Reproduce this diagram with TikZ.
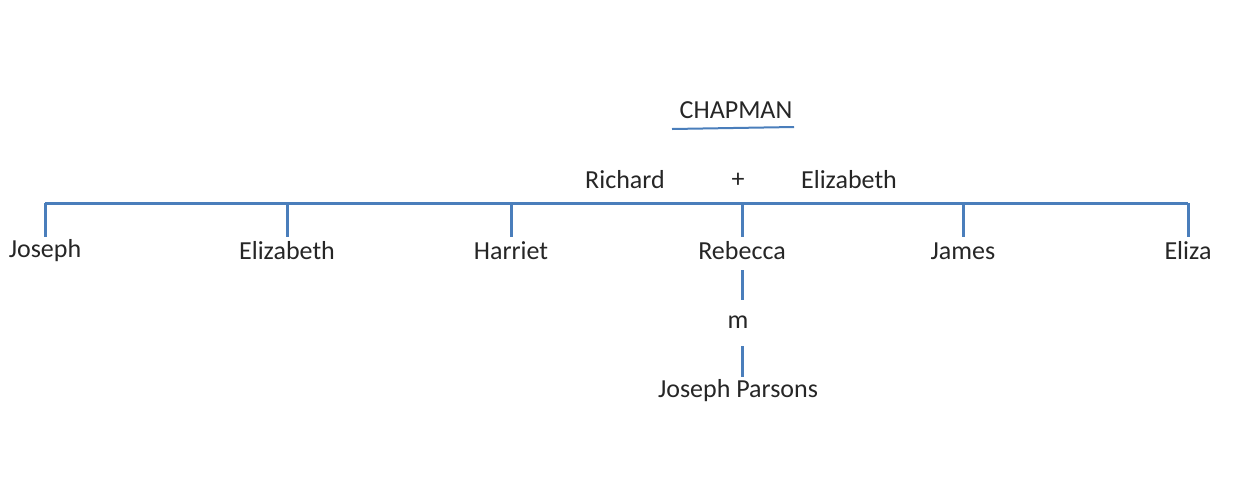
\documentclass[tikz,border=0pt]{standalone}
\usepackage{fontspec}
\setmainfont{Carlito}
\begin{document}
\begin{tikzpicture}[x=1pt,y=-1pt]
\definecolor{ln}{RGB}{74,126,187}
\tikzset{lbl/.style={font=\fontsize{26}{30}\selectfont,inner sep=1pt,text=black!85},
  conn/.style={draw=ln,line width=3pt}}
\useasboundingbox (0,0) rectangle (1248,499);
\node[lbl] (title) at (736,110) {CHAPMAN};
\coordinate (ul1) at (672,129); \coordinate (ul2) at (794,127);
\draw[ln,line width=2pt] (ul1) -- (ul2);
\node[lbl] (richard) at (625,180) {Richard};
\node[lbl] (plus) at (738,180) {+};
\node[lbl] (eliz) at (849,180) {Elizabeth};
\coordinate (L) at (45,203); \coordinate (R) at (1188,203);
\draw[conn] (L) -- (R);
\foreach \x/\n/\t in {45/joseph/Joseph,287/elizabeth/Elizabeth,511/harriet/Harriet,742/rebecca/Rebecca,963/james/James,1188/eliza/Eliza}{
  \coordinate (t\n) at (\x,203);
  \node[lbl] (\n) at (\x,251) {\t};
  \draw[conn] (t\n) -- ++(0,34);
}
\node[lbl] (m) at (738,322) {m};
\node[lbl] (jp) at (738,391) {Joseph Parsons};
\coordinate (a1) at (742,270); \coordinate (a2) at (742,300);
\coordinate (b1) at (742,346); \coordinate (b2) at (742,377);
\draw[conn] (a1) -- (a2);
\draw[conn] (b1) -- (b2);
\end{tikzpicture}
\end{document}
